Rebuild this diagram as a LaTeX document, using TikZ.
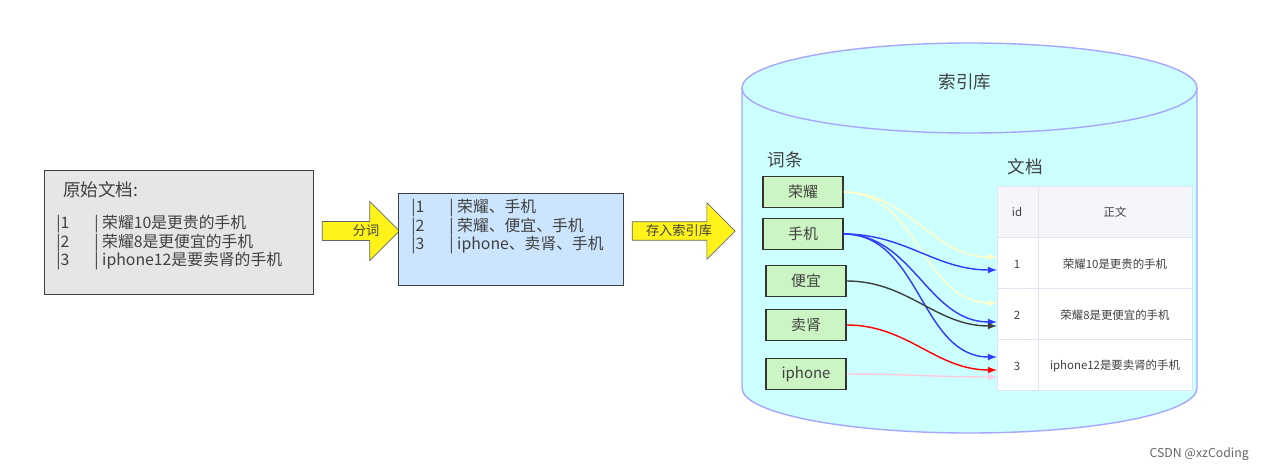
\documentclass[tikz,border=0pt]{standalone}
\usepackage{fontspec}
\setmainfont{Noto Sans CJK SC}
\usetikzlibrary{shapes.arrows}
\definecolor{docgray}{HTML}{E6E6E6}
\definecolor{segblue}{HTML}{CCE5FF}
\definecolor{dbcyan}{HTML}{CCFFFF}
\definecolor{dbedge}{HTML}{A6A6FF}
\definecolor{termgreen}{HTML}{CCF5C4}
\definecolor{tabline}{HTML}{E2E3F0}
\definecolor{tabhead}{HTML}{F5F6FA}
\definecolor{lightyel}{HTML}{FFFFC8}
\definecolor{linkblue}{HTML}{2E3BFF}
\definecolor{linkpink}{HTML}{FFC8DC}
\begin{document}
\begin{tikzpicture}
[
	x = 0.02cm, y = -0.02cm,
	box/.style = {draw = black!75, thick, inner sep = 0pt, anchor = north west},
	term/.style = {draw = black!80, thick, fill = termgreen, minimum width = 1.6cm, minimum height = 0.62cm, font = \fontsize{8.5}{10}\selectfont, text = black!75},
	flow/.style = {single arrow, draw = black!60, fill = yellow!90!white, single arrow head extend = 0.38cm, inner sep = 1.6pt, font = \fontsize{7.5}{9}\selectfont, text = black!75},
	link/.style = {-latex, thick, out = 0, in = 180},
	cell/.style = {font = \fontsize{6.5}{8}\selectfont, text = black!75},
]
	\useasboundingbox (0,0) rectangle (1268,470);

	% source documents
	\node (raw) [box, fill = docgray, minimum width = 5.38cm, minimum height = 2.48cm] at (44,170) {};
	\node [anchor = west, font = \fontsize{10}{12}\selectfont, text = black!75] at (57,190) {原始文档:};
	\node [anchor = north west, align = left, font = \fontsize{9}{10.5}\selectfont, text = black!75, inner sep = 0pt] at (56,215)
		{|1\hspace{5mm}| 荣耀10是更贵的手机\\|2\hspace{5mm}| 荣耀8是更便宜的手机\\|3\hspace{5mm}| iphone12是要卖肾的手机};

	% segmentation
	\node (split) [flow, minimum height = 1.54cm, minimum width = 1.18cm] at (356,231) {\hspace{4mm}分词};
	\node (seg) [box, fill = segblue, minimum width = 4.5cm, minimum height = 1.84cm] at (398,193) {};
	\node [anchor = north west, align = left, font = \fontsize{9}{10.5}\selectfont, text = black!75, inner sep = 0pt] at (411,199)
		{|1\hspace{5mm}| 荣耀、手机\\|2\hspace{5mm}| 荣耀、便宜、手机\\|3\hspace{5mm}| iphone、卖肾、手机};
	\node (store) [flow, minimum height = 2.06cm, minimum width = 1.06cm] at (679,231) {存入索引库\hspace{3mm}};

	% index store
	\fill [dbcyan] (742,88) rectangle (1197,388);
	\fill [dbcyan] (969.5,388) ellipse [x radius = 227.5, y radius = 45];
	\draw [dbedge, thick] (742,88) -- (742,388) arc [start angle = 180, end angle = 0, x radius = 227.5, y radius = 45] -- (1197,88);
	\draw [dbedge, thick, fill = dbcyan] (969.5,88) ellipse [x radius = 227.5, y radius = 45];
	\node (db) [font = \fontsize{10}{12}\selectfont, text = black!75] at (965,82) {索引库};

	\node [font = \fontsize{10}{12}\selectfont, text = black!75] at (785,160) {词条};
	\node [font = \fontsize{10}{12}\selectfont, text = black!75] at (1025,167) {文档};

	% terms
	\node (t1) [term] at (803,192) {荣耀};
	\node (t2) [term] at (803,234) {手机};
	\node (t3) [term] at (806,281) {便宜};
	\node (t4) [term] at (806,325) {卖肾};
	\node (t5) [term] at (806,374) {iphone};

	% table
	\fill [white] (997,186) rectangle (1192,390);
	\fill [tabhead] (997,186) rectangle (1192,237);
	\draw [tabline] (997,186) rectangle (1192,390);
	\draw [tabline] (997,237) -- (1192,237);
	\draw [tabline] (997,288) -- (1192,288);
	\draw [tabline] (997,339) -- (1192,339);
	\draw [tabline] (1038,186) -- (1038,390);
	\node [cell] at (1017,212) {id};
	\node [cell] at (1115,212) {正文};
	\node [cell] at (1017,264) {1};
	\node [cell] at (1115,264) {荣耀10是更贵的手机};
	\node [cell] at (1017,315) {2};
	\node [cell] at (1115,315) {荣耀8是更便宜的手机};
	\node [cell] at (1017,366) {3};
	\node [cell] at (1115,366) {iphone12是要卖肾的手机};

	\coordinate (r1a) at (997,257);
	\coordinate (r1b) at (997,270);
	\coordinate (r2a) at (997,303);
	\coordinate (r2b) at (997,322);
	\coordinate (r2c) at (997,326);
	\coordinate (r3a) at (997,357);
	\coordinate (r3b) at (997,370);
	\coordinate (r3c) at (997,377);

	% postings
	\draw [link, lightyel] (t1.east) to (r1a);
	\draw [link, lightyel] (t1.east) to (r2a);
	\draw [link, linkblue] (t2.east) to (r1b);
	\draw [link, linkblue] (t2.east) to (r2b);
	\draw [link, linkblue] (t2.east) to (r3a);
	\draw [link, black!75] (t3.east) to (r2c);
	\draw [link, red] (t4.east) to (r3b);
	\draw [link, linkpink] (t5.east) to (r3c);

	\node [anchor = east, font = \fontsize{7}{8}\selectfont, text = black!60] at (1255,454) {CSDN @xzCoding};
\end{tikzpicture}
\end{document}
